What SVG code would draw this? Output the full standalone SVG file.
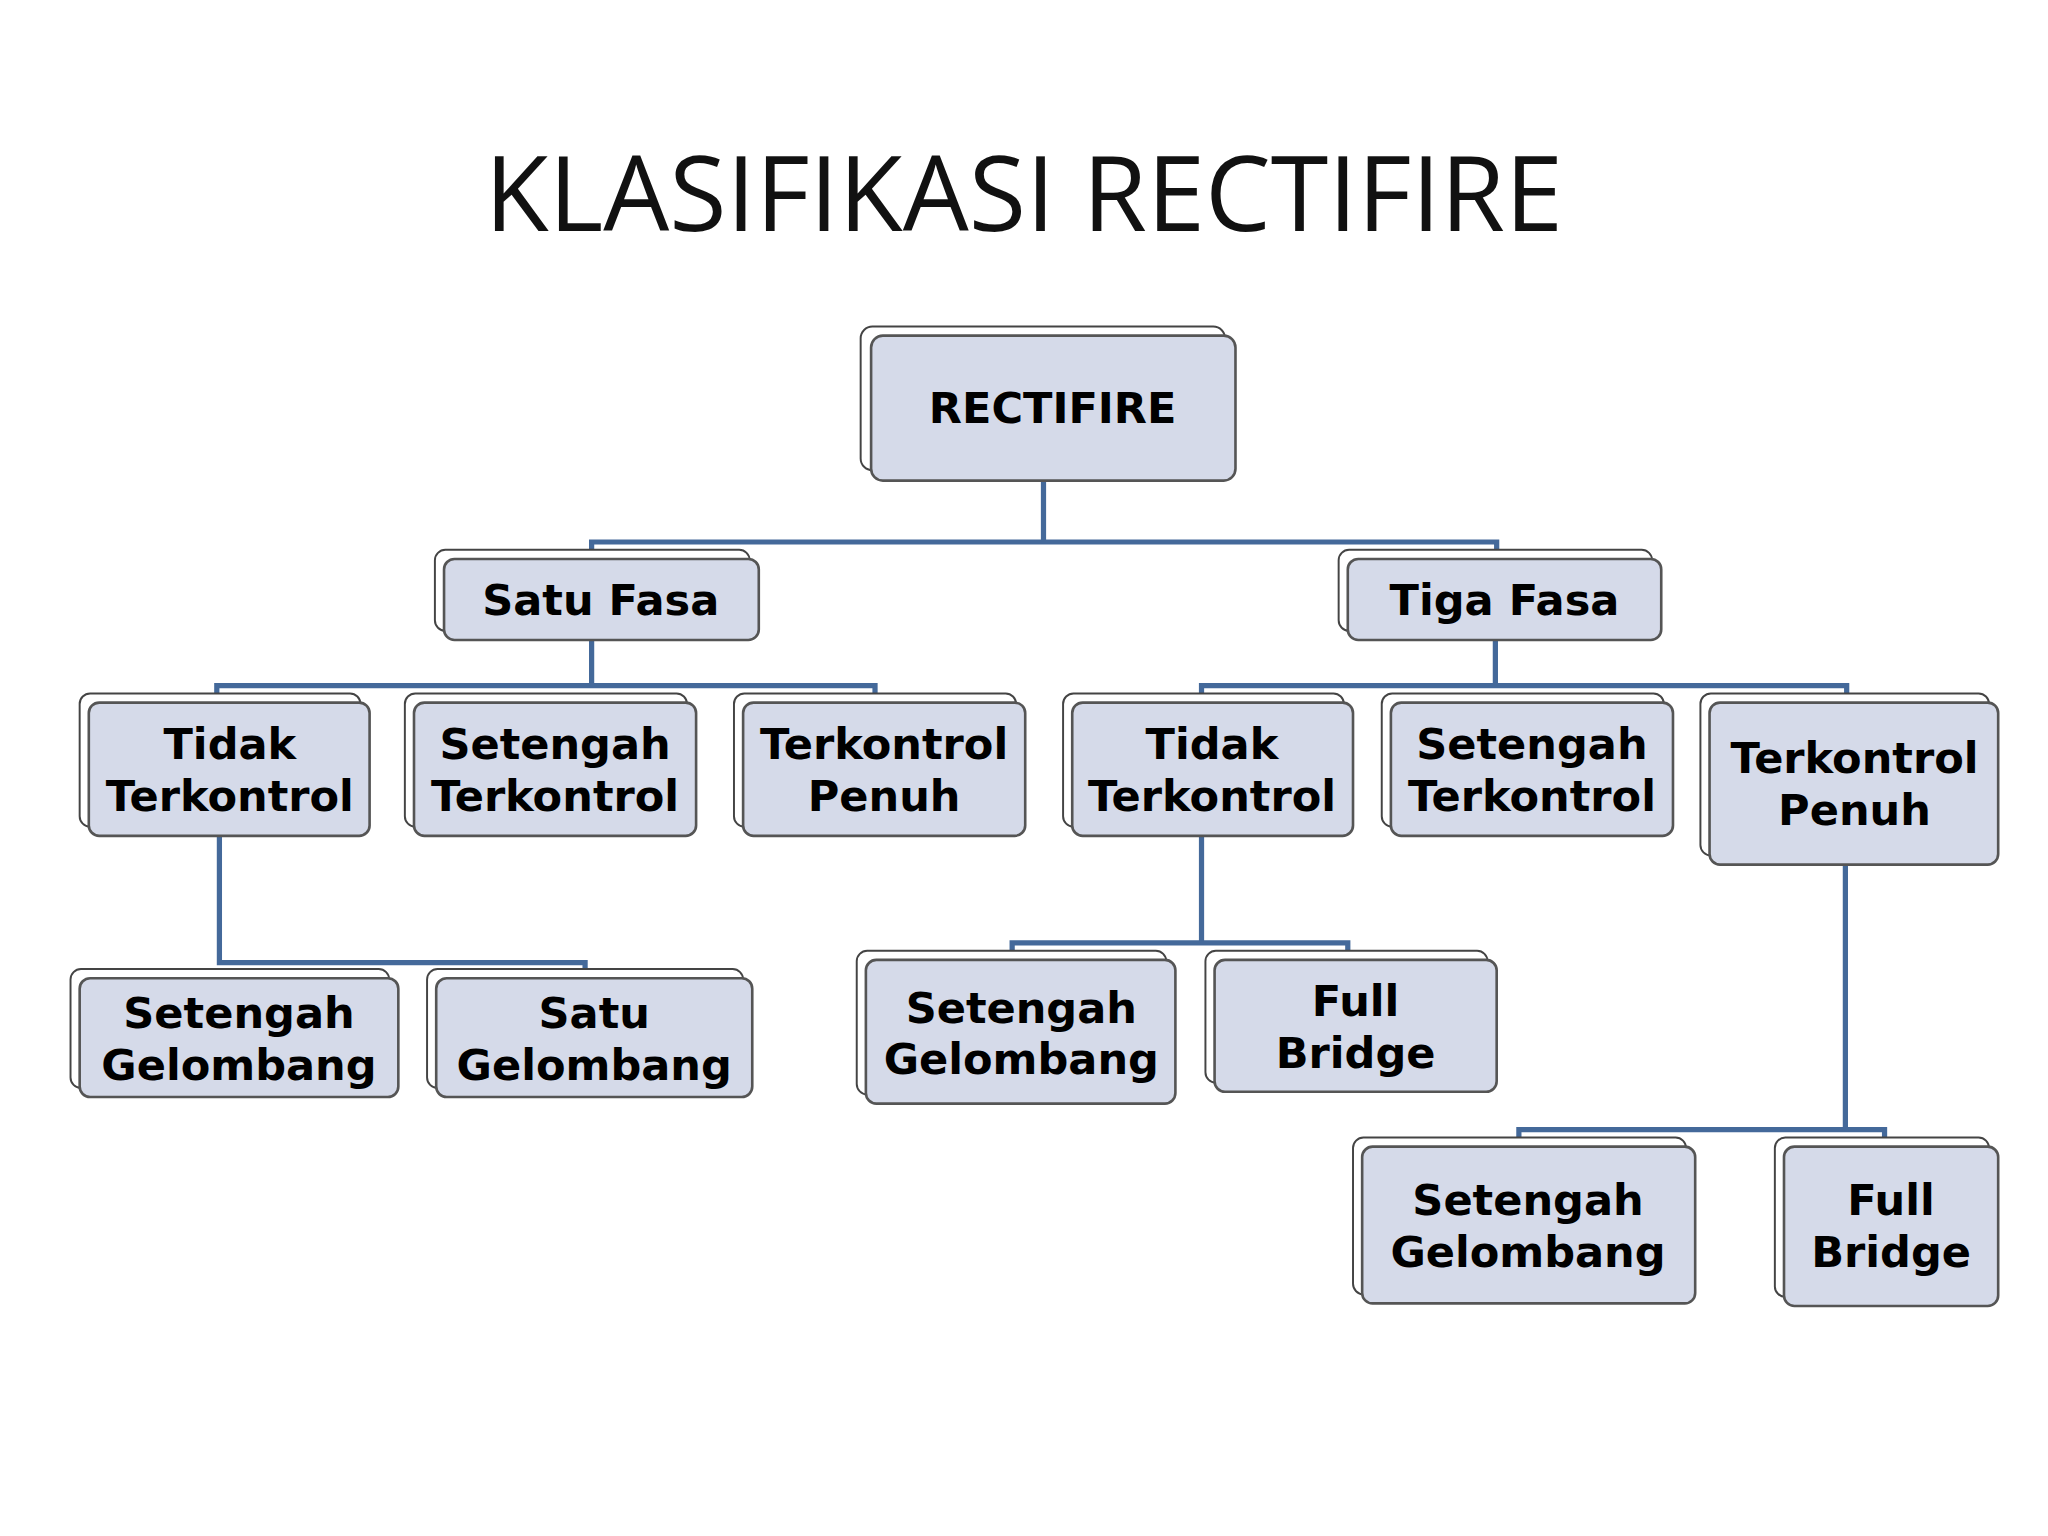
<svg xmlns="http://www.w3.org/2000/svg" width="2048" height="1536" viewBox="0 0 2048 1536">
<style>
.b{fill:#fff;stroke:#444;stroke-width:1.5}
.f{fill:#d5dae9;stroke:#555;stroke-width:2}
.t{font-family:"DejaVu Sans",sans-serif;font-weight:bold;font-size:33px;fill:#000;text-anchor:middle}
.c{fill:none;stroke:#44699a;stroke-width:4}
</style>
<rect width="2048" height="1536" fill="#fff"/>
<g transform="scale(1.306)">
<text x="784" y="177" font-family="Open Sans, sans-serif" font-size="80" text-anchor="middle" fill="#111">KLASIFIKASI RECTIFIRE</text>
<g id="connectors">
<path class="c" d="M799 368V415M453 428V415H1146V428"/>
<path class="c" d="M453 490V525M166 538V525H670V538"/>
<path class="c" d="M1145 490V525M920 538V525H1414V538"/>
<path class="c" d="M168 640V737H448V749"/>
<path class="c" d="M920 640V722M775 735V722H1032V735"/>
<path class="c" d="M1413 662V865M1163 878V865H1443V878"/>
</g>
<g id="n0"><rect class="b" x="659" y="250" width="279" height="110" rx="9"/><rect class="f" x="667" y="257" width="279" height="111" rx="9"/><text class="t" x="806" y="324">RECTIFIRE</text></g>
<g id="n1"><rect class="b" x="333" y="421" width="241" height="62" rx="8"/><rect class="f" x="340" y="428" width="241" height="62" rx="8"/><text class="t" x="460" y="471">Satu Fasa</text></g>
<g id="n2"><rect class="b" x="1025" y="421" width="240" height="62" rx="8"/><rect class="f" x="1032" y="428" width="240" height="62" rx="8"/><text class="t" x="1152" y="471">Tiga Fasa</text></g>
<g id="n3"><rect class="b" x="61" y="531" width="215" height="102" rx="8"/><rect class="f" x="68" y="538" width="215" height="102" rx="8"/><text class="t" x="176" y="581">Tidak</text><text class="t" x="176" y="621">Terkontrol</text></g>
<g id="n4"><rect class="b" x="310" y="531" width="216" height="102" rx="8"/><rect class="f" x="317" y="538" width="216" height="102" rx="8"/><text class="t" x="425" y="581">Setengah</text><text class="t" x="425" y="621">Terkontrol</text></g>
<g id="n5"><rect class="b" x="562" y="531" width="216" height="102" rx="8"/><rect class="f" x="569" y="538" width="216" height="102" rx="8"/><text class="t" x="677" y="581">Terkontrol</text><text class="t" x="677" y="621">Penuh</text></g>
<g id="n6"><rect class="b" x="814" y="531" width="215" height="102" rx="8"/><rect class="f" x="821" y="538" width="215" height="102" rx="8"/><text class="t" x="928" y="581">Tidak</text><text class="t" x="928" y="621">Terkontrol</text></g>
<g id="n7"><rect class="b" x="1058" y="531" width="216" height="102" rx="8"/><rect class="f" x="1065" y="538" width="216" height="102" rx="8"/><text class="t" x="1173" y="581">Setengah</text><text class="t" x="1173" y="621">Terkontrol</text></g>
<g id="n8"><rect class="b" x="1302" y="531" width="221" height="124" rx="8"/><rect class="f" x="1309" y="538" width="221" height="124" rx="8"/><text class="t" x="1420" y="592">Terkontrol</text><text class="t" x="1420" y="632">Penuh</text></g>
<g id="n9"><rect class="b" x="54" y="742" width="244" height="91" rx="8"/><rect class="f" x="61" y="749" width="244" height="91" rx="8"/><text class="t" x="183" y="787">Setengah</text><text class="t" x="183" y="827">Gelombang</text></g>
<g id="n10"><rect class="b" x="327" y="742" width="242" height="91" rx="8"/><rect class="f" x="334" y="749" width="242" height="91" rx="8"/><text class="t" x="455" y="787">Satu</text><text class="t" x="455" y="827">Gelombang</text></g>
<g id="n11"><rect class="b" x="656" y="728" width="237" height="110" rx="8"/><rect class="f" x="663" y="735" width="237" height="110" rx="8"/><text class="t" x="782" y="783">Setengah</text><text class="t" x="782" y="822">Gelombang</text></g>
<g id="n12"><rect class="b" x="923" y="728" width="216" height="101" rx="8"/><rect class="f" x="930" y="735" width="216" height="101" rx="8"/><text class="t" x="1038" y="778">Full</text><text class="t" x="1038" y="818">Bridge</text></g>
<g id="n13"><rect class="b" x="1036" y="871" width="255" height="120" rx="8"/><rect class="f" x="1043" y="878" width="255" height="120" rx="8"/><text class="t" x="1170" y="930">Setengah</text><text class="t" x="1170" y="970">Gelombang</text></g>
<g id="n14"><rect class="b" x="1359" y="871" width="164" height="122" rx="8"/><rect class="f" x="1366" y="878" width="164" height="122" rx="8"/><text class="t" x="1448" y="930">Full</text><text class="t" x="1448" y="970">Bridge</text></g>
</g>
</svg>
